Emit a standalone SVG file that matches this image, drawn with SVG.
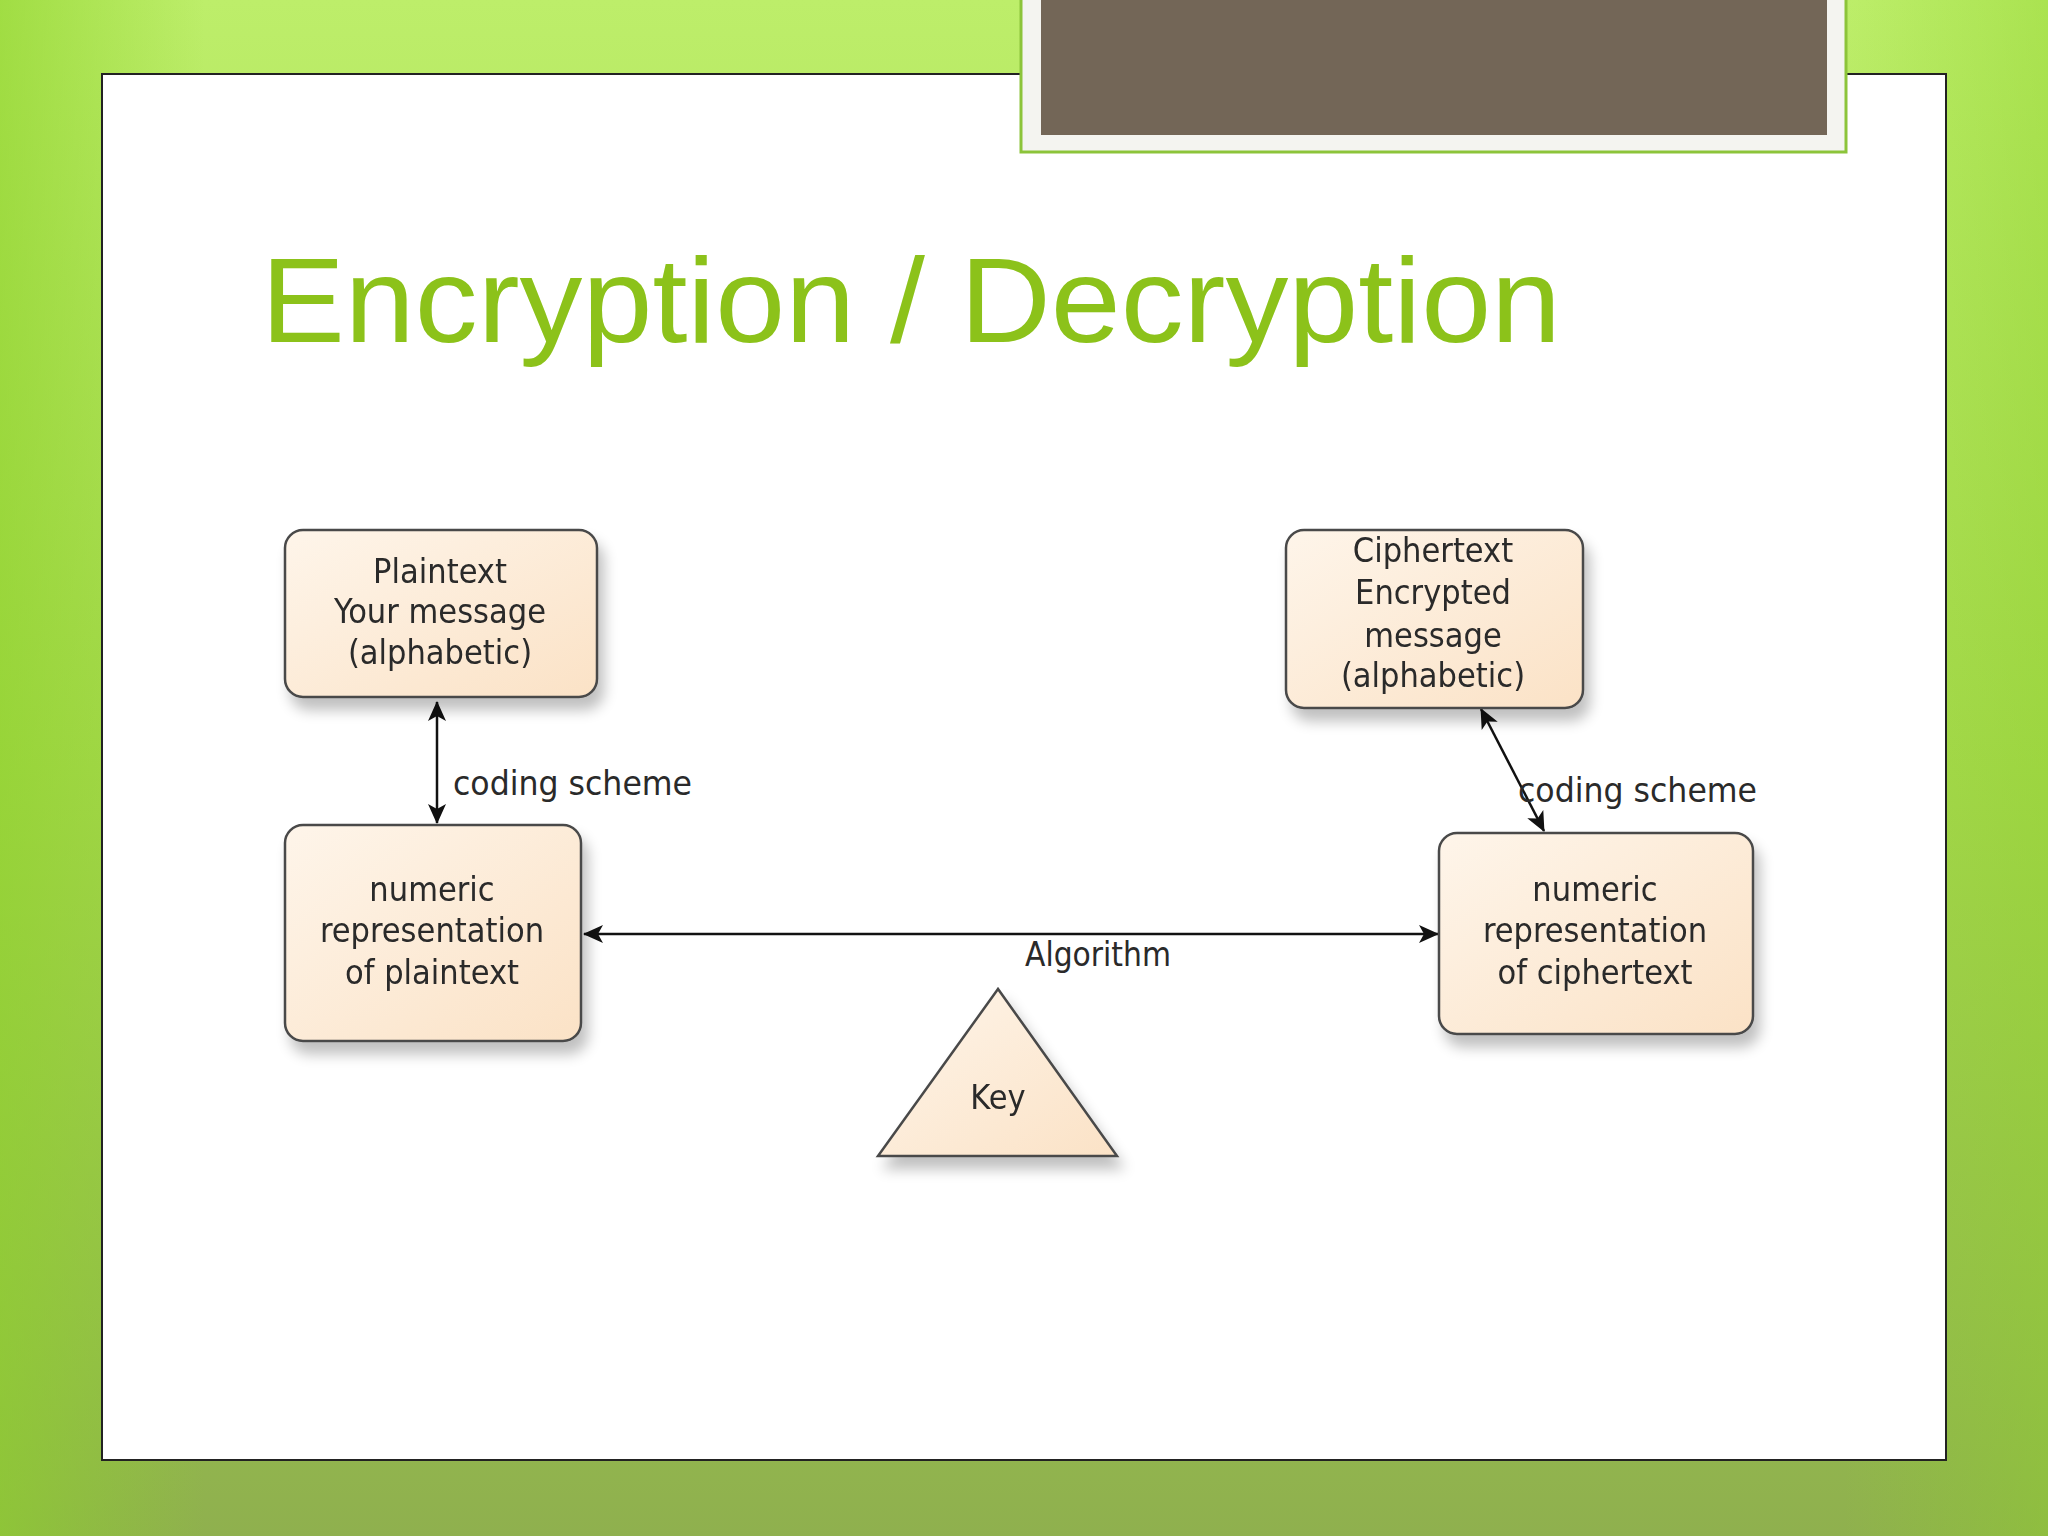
<svg xmlns="http://www.w3.org/2000/svg" width="2048" height="1536" viewBox="0 0 2048 1536">
<defs>
<linearGradient id="bg" x1="0" y1="0" x2="0" y2="1">
<stop offset="0" stop-color="#BDEE6A"/>
<stop offset="0.5" stop-color="#A6D84E"/>
<stop offset="1" stop-color="#8FB04E"/>
</linearGradient>
<linearGradient id="bgside" x1="0" y1="0" x2="1" y2="0">
<stop offset="0" stop-color="#8ED22A" stop-opacity="0.6"/>
<stop offset="0.1" stop-color="#8ED22A" stop-opacity="0"/>
<stop offset="0.9" stop-color="#8ED22A" stop-opacity="0"/>
<stop offset="1" stop-color="#8ED22A" stop-opacity="0.4"/>
</linearGradient>
<linearGradient id="box" x1="0" y1="0" x2="1" y2="1">
<stop offset="0" stop-color="#FEF5EA"/>
<stop offset="1" stop-color="#FBE2C6"/>
</linearGradient>
<filter id="sh" x="-20%" y="-20%" width="140%" height="150%">
<feGaussianBlur in="SourceAlpha" stdDeviation="7"/>
<feOffset dx="6" dy="12" result="b"/>
<feComponentTransfer><feFuncA type="linear" slope="0.25"/></feComponentTransfer>
<feMerge><feMergeNode/><feMergeNode in="SourceGraphic"/></feMerge>
</filter>
<marker id="ah" viewBox="0 0 20 18" refX="19" refY="9" markerWidth="20" markerHeight="18" markerUnits="userSpaceOnUse" orient="auto-start-reverse">
<path d="M0,0 L20,9 L0,18 L5,9 Z" fill="#111"/>
</marker>
</defs>
<style>
.node rect, .node polygon { fill: url(#box); stroke: #4a4a4a; stroke-width: 2.5; }
.lbl { font-family: "DejaVu Sans Condensed", "Liberation Sans", sans-serif; font-size: 34px; fill: #2a2a2a; text-anchor: middle; }
.conn line { stroke: #111; stroke-width: 2.5; marker-start: url(#ah); marker-end: url(#ah); }
.clbl { font-family: "DejaVu Sans Condensed", "Liberation Sans", sans-serif; font-size: 33px; fill: #2a2a2a; }
</style>
<rect x="0" y="0" width="2048" height="1536" fill="url(#bg)"/>
<rect x="0" y="0" width="2048" height="1536" fill="url(#bgside)"/>
<rect x="102" y="74" width="1844" height="1386" fill="#FFFFFF" stroke="#222" stroke-width="2"/>
<rect x="1021" y="-10" width="825" height="162" fill="#F4F4F0" stroke="#8CC43A" stroke-width="3"/>
<rect x="1041" y="-10" width="786" height="145" fill="#736657"/>
<text x="261" y="342" font-family="'URW Gothic', 'Liberation Sans', sans-serif" font-size="120" fill="#8CC21A" textLength="1300" lengthAdjust="spacingAndGlyphs">Encryption / Decryption</text>

<g id="connectors" class="conn">
<line x1="437" y1="702" x2="437" y2="823"/>
<line x1="1481" y1="709" x2="1544" y2="831"/>
<line x1="584" y1="934" x2="1438" y2="934"/>
</g>
<g id="connector-labels">
<text class="clbl" x="453" y="795" textLength="239" lengthAdjust="spacingAndGlyphs">coding scheme</text>
<text class="clbl" x="1518" y="802" textLength="239" lengthAdjust="spacingAndGlyphs">coding scheme</text>
<text class="clbl" x="1025" y="966" textLength="146" lengthAdjust="spacingAndGlyphs">Algorithm</text>
</g>

<g id="plaintext" class="node" filter="url(#sh)">
<rect x="285" y="530" width="312" height="167" rx="18"/>
<text class="lbl" x="440" y="583">Plaintext</text>
<text class="lbl" x="440" y="623">Your message</text>
<text class="lbl" x="440" y="664">(alphabetic)</text>
</g>
<g id="numeric-plaintext" class="node" filter="url(#sh)">
<rect x="285" y="825" width="296" height="216" rx="18"/>
<text class="lbl" x="432" y="901">numeric</text>
<text class="lbl" x="432" y="942">representation</text>
<text class="lbl" x="432" y="984">of plaintext</text>
</g>
<g id="ciphertext" class="node" filter="url(#sh)">
<rect x="1286" y="530" width="297" height="178" rx="18"/>
<text class="lbl" x="1433" y="562">Ciphertext</text>
<text class="lbl" x="1433" y="604">Encrypted</text>
<text class="lbl" x="1433" y="647">message</text>
<text class="lbl" x="1433" y="687">(alphabetic)</text>
</g>
<g id="numeric-ciphertext" class="node" filter="url(#sh)">
<rect x="1439" y="833" width="314" height="201" rx="18"/>
<text class="lbl" x="1595" y="901">numeric</text>
<text class="lbl" x="1595" y="942">representation</text>
<text class="lbl" x="1595" y="984">of ciphertext</text>
</g>
<g id="key" class="node" filter="url(#sh)">
<polygon points="998,989 878,1156 1117,1156"/>
<text class="lbl" x="998" y="1109">Key</text>
</g>
</svg>
